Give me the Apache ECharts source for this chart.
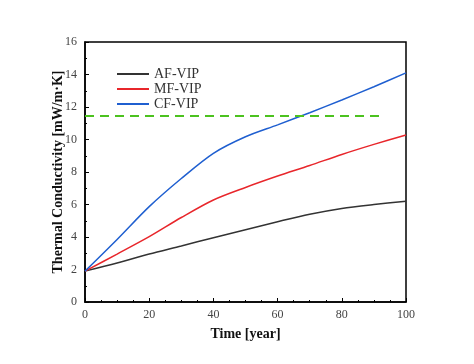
<!DOCTYPE html>
<html><head><meta charset="utf-8">
<script src="https://cdn.jsdelivr.net/npm/echarts@6/dist/echarts.min.js"></script>
<style>html,body{margin:0;padding:0;background:#fff}#c{width:474px;height:364px}</style>
</head><body><div id="c"></div>
<script>
const years = [0, 10, 20, 30, 40, 50, 60, 70, 80, 90, 100];
const afVip = [1.9, 2.4, 2.95, 3.45, 3.96, 4.45, 4.94, 5.4, 5.76, 6.0, 6.2];
const mfVip = [1.9, 2.95, 4.02, 5.2, 6.28, 7.05, 7.75, 8.4, 9.08, 9.7, 10.28];
const cfVip = [1.9, 3.85, 5.87, 7.6, 9.15, 10.17, 10.9, 11.65, 12.43, 13.25, 14.1];
const limitValue = 11.45;
const limitRange = [0, 92];
const seriesNames = ['AF-VIP', 'MF-VIP', 'CF-VIP'];
const seriesColors = ['#333333', '#e8262b', '#1f5fd0'];

const pair = (xs, ys) => xs.map((x, i) => [x, ys[i]]);
const font = 'Liberation Serif';
const chart = echarts.init(document.getElementById('c'));
chart.setOption({
  animation: false,
  grid: {left: 85, right: 68, top: 42, bottom: 62, show: true, borderColor: '#000', borderWidth: 1.5, backgroundColor: 'transparent'},
  legend: {
    left: 112, top: 62, orient: 'vertical', itemWidth: 32, itemHeight: 2, itemGap: 1,
    icon: 'rect',
    textStyle: {fontFamily: font, fontSize: 14, color: '#333'},
    data: seriesNames
  },
  xAxis: {
    type: 'value', min: 0, max: 100, interval: 20,
    name: 'Time [year]', nameLocation: 'middle', nameGap: 25,
    nameTextStyle: {fontFamily: font, fontSize: 14, fontWeight: 'bold', color: '#111'},
    axisLine: {lineStyle: {color: '#000', width: 1.5}},
    axisTick: {inside: true, length: 4, lineStyle: {color: '#000'}},
    minorTick: {show: true, splitNumber: 4, length: 2, lineStyle: {color: '#000'}},
    axisLabel: {fontFamily: font, fontSize: 12, color: '#444', margin: 7},
    splitLine: {show: false}
  },
  yAxis: {
    type: 'value', min: 0, max: 16, interval: 2,
    name: 'Thermal Conductivity [mW/m·K]', nameLocation: 'middle', nameGap: 20, nameMoveOverlap: false,
    nameTextStyle: {fontFamily: font, fontSize: 14, fontWeight: 'bold', color: '#111'},
    axisLine: {lineStyle: {color: '#000', width: 1.5}},
    axisTick: {inside: true, length: 4, lineStyle: {color: '#000'}},
    minorTick: {show: true, splitNumber: 2, length: 2, lineStyle: {color: '#000'}},
    axisLabel: {fontFamily: font, fontSize: 12, color: '#444', margin: 8},
    splitLine: {show: false}
  },
  series: [
    {name: seriesNames[0], type: 'line', smooth: 0.3, showSymbol: false, data: pair(years, afVip), lineStyle: {color: seriesColors[0], width: 1.5}, itemStyle: {color: seriesColors[0]}},
    {name: seriesNames[1], type: 'line', smooth: 0.3, showSymbol: false, data: pair(years, mfVip), lineStyle: {color: seriesColors[1], width: 1.5}, itemStyle: {color: seriesColors[1]}},
    {name: seriesNames[2], type: 'line', smooth: 0.3, showSymbol: false, data: pair(years, cfVip), lineStyle: {color: seriesColors[2], width: 1.5}, itemStyle: {color: seriesColors[2]}},
    {name: 'limit', type: 'line', showSymbol: false, data: limitRange.map(x => [x, limitValue]), lineStyle: {color: '#4cc21f', width: 2, type: [9, 6]}, itemStyle: {color: '#4cc21f'}}
  ]
});
</script></body></html>
